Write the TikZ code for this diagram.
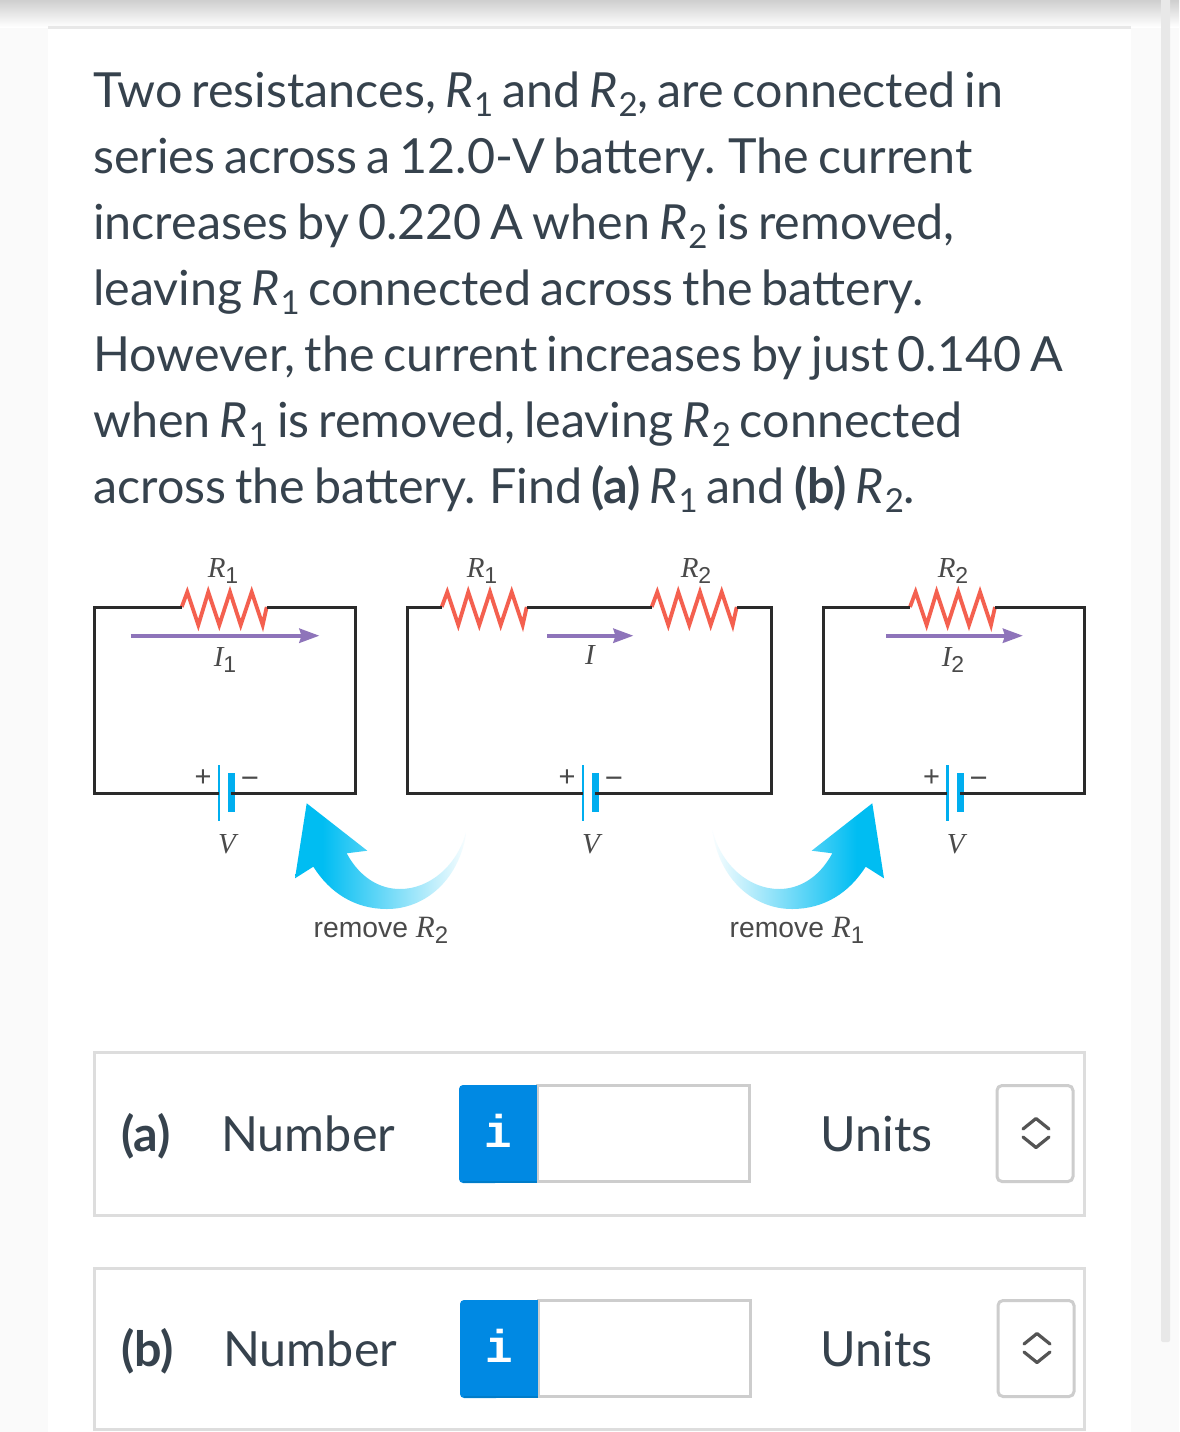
\documentclass[tikz,border=0pt]{standalone}
\usepackage{fontspec}
\setmainfont[WordSpace=0.73]{Lato}
\newfontfamily\lato{Lato}
\newfontfamily\figsans{Liberation Sans}
\newfontfamily\figserif{Liberation Serif}
\newfontfamily\monob{Liberation Mono}
\usetikzlibrary{arrows.meta}
\definecolor{ink}{HTML}{36424D}
\definecolor{wirec}{HTML}{2A2A2A}
\definecolor{zigc}{HTML}{F4604F}
\definecolor{curc}{HTML}{8E74BA}
\definecolor{skyc}{HTML}{00BDF2}
\definecolor{batc}{HTML}{00AEEF}
\definecolor{figtxt}{HTML}{4A4A4A}
\definecolor{btnc}{HTML}{0089E3}
\definecolor{btnd}{HTML}{007CC9}
\definecolor{edgec}{HTML}{CDCDCD}
\definecolor{panelc}{HTML}{DDDDDD}
\pgfdeclarehorizontalshading{fadeR}{100bp}{color(0bp)=(skyc);color(33bp)=(skyc);color(76bp)=(white);color(100bp)=(white)}
\pgfdeclarehorizontalshading{fadeL}{100bp}{color(0bp)=(white);color(24bp)=(white);color(67bp)=(skyc);color(100bp)=(skyc)}
\newcommand{\Rb}[1]{{\itshape R}\kern0.8pt\relax\raisebox{-0.2em}{\fontsize{33}{33}\selectfont #1}}
\newcommand{\Fq}[2]{{\fontsize{29}{30}\figserif\itshape\selectfont #1}\raisebox{-0.24em}{\fontsize{23}{23}\figsans\selectfont #2}}
\newcommand{\Fr}[2]{{\fontsize{31}{30}\figserif\itshape\selectfont #1}\raisebox{-0.24em}{\fontsize{24}{24}\figsans\selectfont #2}}
\tikzset{
  wire/.style={draw=wirec,line width=3pt,line join=miter},
  zig/.style={draw=zigc,line width=3.8pt,line join=miter},
  cur/.style={draw=curc,line width=4pt,-{Stealth[length=20pt,width=14pt,inset=2pt,fill=curc]}},
  para/.style={anchor=base west,inner sep=0pt,text=ink,font=\fontsize{48.4}{56}\selectfont},
  rowtxt/.style={anchor=base west,inner sep=0pt,text=ink,font=\fontsize{48.5}{56}\lato\selectfont},
  flabel/.style={inner sep=0pt,text=figtxt,font=\fontsize{27}{30}\selectfont},
  rmv/.style={anchor=base west,inner sep=0pt,text=figtxt,font=\fontsize{28.3}{30}\figsans\selectfont},
  panel/.style={draw=panelc,line width=3pt,fill=white},
  field/.style={draw=edgec,line width=3pt,fill=white},
  sel/.style={draw=edgec,line width=3pt,fill=white,rounded corners=5pt},
  chev/.style={draw=black!67,line width=3.2pt,line cap=round,line join=round},
  btn/.style={fill=btnc,rounded corners=4pt},
  glyph/.style={inner sep=0pt,text=white,font=\fontsize{46}{46}\monob\bfseries\selectfont},
}
\newcommand{\resistor}[2]{%
  \begin{scope}[shift={(#1,0)}]
    \coordinate (#2a) at (0,607);
    \coordinate (#2b) at (85,607);
    \draw[zig] (0,607) -- (5.6,592) -- (16.6,625) -- (26.6,592) -- (37.6,625) -- (48.3,592) -- (59,625) -- (70,592) -- (81,625) -- (85,607);
  \end{scope}}
\newcommand{\battery}[2]{%
  \begin{scope}[shift={(#1,0)}]
    \coordinate (#2p) at (218.7,793);
    \coordinate (#2m) at (231,793);
    \fill[batc] (217.7,765) rectangle (220.3,821);
    \fill[batc] (228,773) rectangle (235,812);
    \node[flabel] (#2plus) at (203,778) {\fontsize{29}{30}\figsans\selectfont +};
    \node[flabel] (#2minus) at (250,783) {\fontsize{31}{30}\figsans\selectfont −};
    \node[flabel] (#2v) at (227,844) {\fontsize{29}{30}\figserif\itshape\selectfont V};
  \end{scope}}
\newcommand{\answer}[8]{% name, panel top, panel bottom, button left, row centre, label x, select left, letter
  \node[rowtxt,font=\fontsize{48.5}{56}\lato\bfseries\selectfont] (#1let) at (121,#5+17.5) {(#8)};
  \node[rowtxt] (#1num) at (#6,#5+17.5) {Number};
  \fill[btn] (#4,#5-49) rectangle (#4+40,#5+49);
  \draw[field] (#4+78,#5-48.5) rectangle (#4+290,#5+47.5);
  \fill[btnc] (#4+30,#5-49.5) rectangle (#4+78,#5+48.5);
  \fill[btnd] (#4+4,#5+47) rectangle (#4+78,#5+49);
  \node[glyph] (#1i) at (#4+39.5,#5-3) {i};
  \node[rowtxt] (#1unit) at (820.5,#5+17.5) {Units};
  \draw[sel] (#7+1,#5-48.5) rectangle (#7+77,#5+47.5);
  \draw[chev] (#7+27,#5-5) -- (#7+40,#5-15.5) -- (#7+53,#5-5);
  \draw[chev] (#7+27,#5+3) -- (#7+40,#5+13.5) -- (#7+53,#5+3);
}
\begin{document}
\begin{tikzpicture}[x=1pt,y=-1pt]
\useasboundingbox (0,0) rectangle (1179,1432);
% page
\fill[white] (0,0) rectangle (1179,1432);
\fill[black!2] (0,0) rectangle (48,1432);
\fill[black!2] (1131,0) rectangle (1179,1432);
\shade[top color=black!19,bottom color=black!0] (0,0) rectangle (1179,27);
\fill[black!9] (48,26) rectangle (1131,29);
\fill[black!9,rounded corners=2pt] (1161,-5) rectangle (1170,1342);
% paragraph
\node[para] (l1) at (93,107) {Two resistances, \Rb{1} and \Rb{2}, are connected in};
\node[para] (l2) at (93,173) {series across a 12.0-V battery. The current};
\node[para] (l3) at (93,239) {increases by 0.220 A when \Rb{2} is removed,};
\node[para] (l4) at (93,305) {leaving \Rb{1} connected across the battery.};
\node[para] (l5) at (93,371) {However, the current increases by just 0.140 A};
\node[para] (l6) at (93,437) {when \Rb{1} is removed, leaving \Rb{2} connected};
\node[para] (l7) at (93,503) {across the battery. Find \textbf{(a)} \Rb{1} and \textbf{(b)} \Rb{2}.};
% circuit 1
\resistor{181.7}{ra}
\battery{0}{ba}
\draw[wire] (raa) -| (94,793) -- (bap);
\draw[wire] (rab) -| (355.5,793) -- (bam);
\draw[cur] (130.7,635.7) -- (319.5,635.7);
\node[flabel] (t1) at (223,571) {\Fq{R}{1}};
\node[flabel] (t2) at (225,660) {\Fq{I}{1}};
% circuit 2
\resistor{441.7}{rb}
\resistor{651.7}{rc}
\battery{364}{bb}
\draw[wire] (rba) -| (407,793) -- (bbp);
\draw[wire] (rbb) -- (rca);
\draw[wire] (rcb) -| (771.5,793) -- (bbm);
\draw[cur] (547,635.7) -- (633.5,635.7);
\node[flabel] (t3) at (482,571) {\Fq{R}{1}};
\node[flabel] (t4) at (696,571) {\Fq{R}{2}};
\node[flabel] (t5) at (590,655) {\fontsize{29}{30}\figserif\itshape\selectfont I};
% circuit 3
\resistor{910}{rd}
\battery{728.6}{bc}
\draw[wire] (rda) -| (823,793) -- (bcp);
\draw[wire] (rdb) -| (1084.5,793) -- (bcm);
\draw[cur] (886,635.7) -- (1023,635.7);
\node[flabel] (t6) at (953,571) {\Fq{R}{2}};
\node[flabel] (t7) at (953,660) {\Fq{I}{2}};
% curved arrows
\shade[shading=fadeR] (306.7,803.3) -- (367.3,850.7) -- (346.7,853.3)
  .. controls (360,878) and (380,889) .. (400,889)
  .. controls (430,889) and (458,865) .. (466.7,830)
  .. controls (460,880) and (425,909) .. (387,909)
  .. controls (355,909) and (330,893) .. (313.3,866.7)
  -- (295,878.3) -- cycle;
\shade[shading=fadeL] (872.3,803.3) -- (811.7,850.7) -- (832.3,853.3)
  .. controls (819,878) and (799,889) .. (779,889)
  .. controls (749,889) and (721,865) .. (712.3,830)
  .. controls (719,880) and (754,909) .. (792,909)
  .. controls (824,909) and (849,893) .. (865.7,866.7)
  -- (884,878.3) -- cycle;
\node[rmv] (m1) at (313.5,937) {remove \Fr{R}{2}};
\node[rmv] (m2) at (729.5,937) {remove \Fr{R}{1}};
% answer rows
\draw[panel] (94,1052) rectangle (1084.5,1215);
\draw[panel] (94,1268) rectangle (1084.5,1429);
\answer{a}{1052}{1215}{459}{1134}{221}{996}{a}
\answer{b}{1268}{1429}{460}{1349}{223}{997}{b}
\end{tikzpicture}
\end{document}
